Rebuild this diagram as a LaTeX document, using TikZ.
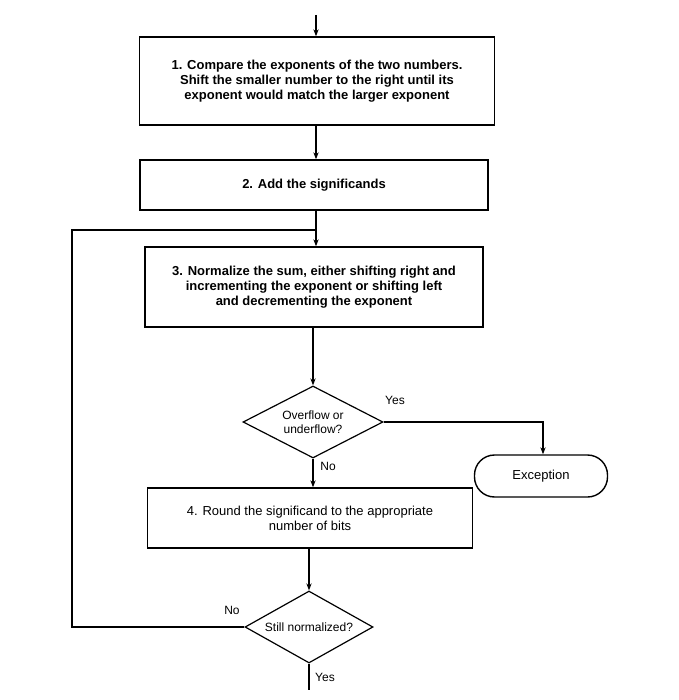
\documentclass[tikz,border=0pt]{standalone}
\usepackage{fontspec}
\setmainfont{Liberation Sans}
\usetikzlibrary{shapes.geometric,arrows.meta}
\begin{document}
\begin{tikzpicture}[x=1pt,y=-1pt,
  box/.style={draw,line width=1.4pt,fill=white,minimum height=#1,align=center,font=\fontsize{13}{15}\selectfont},
  dia/.style={draw,diamond,line width=1.2pt,fill=white,aspect=1.6,inner sep=0pt,minimum width=#1,minimum height=72pt,align=center,font=\fontsize{12}{14}\selectfont},
  arr/.style={line width=1.2pt,-{Stealth[length=7pt]}},
  ln/.style={line width=1.2pt},
  lbl/.style={font=\fontsize{12}{14}\selectfont}]
\useasboundingbox[fill=white] (0,0) rectangle (678,700);
\node[box=88pt,minimum width=355pt] (b1) at (317,81) {\textbf{1. Compare the exponents of the two numbers.}\\\textbf{Shift the smaller number to the right until its}\\\textbf{exponent would match the larger exponent}};
\node[box=50pt,minimum width=348pt] (b2) at (314,185) {\textbf{2. Add the significands}};
\node[box=80pt,minimum width=338pt] (b3) at (314,287) {\textbf{3. Normalize the sum, either shifting right and}\\\textbf{incrementing the exponent or shifting left}\\\textbf{and decrementing the exponent}};
\node[dia=140pt] (d1) at (313,422) {Overflow or\\underflow?};
\node[draw,line width=1.4pt,rounded corners=20pt,minimum width=133pt,minimum height=42pt,font=\fontsize{13}{15}\selectfont] (ex) at (541,476) {Exception};
\node[box=60pt,minimum width=325pt] (b4) at (310,518) {4. Round the significand to the appropriate\\number of bits};
\node[dia=128pt] (d2) at (309,627) {Still normalized?};
\coordinate (top) at (316,15);
\coordinate (loopL) at (72,627);
\coordinate (loopT) at (72,230);
\coordinate (join) at (316,230);
\coordinate (ycorner) at (543,422);
\coordinate (yesEnd) at (309,690);
\draw[arr] (top) -- (b1.north -| top);
\draw[arr] (b1.south -| top) -- (b2.north -| top);
\draw[arr] (b2.south -| top) -- (b3.north -| top);
\draw[arr] (b3.south -| d1) -- (d1.north);
\draw[arr] (d1.east) -- (ycorner) -- (ex.north -| ycorner);
\draw[arr] (d1.south) -- (b4.north -| d1);
\draw[arr] (b4.south -| d2) -- (d2.north);
\draw[ln] (d2.west) -- (loopL) -- (loopT) -- (join);
\draw[ln] (d2.south) -- (yesEnd);
\node[lbl] at (395,400) {Yes};
\node[lbl] at (328,466) {No};
\node[lbl] at (232,610) {No};
\node[lbl] at (325,677) {Yes};
\end{tikzpicture}
\end{document}
